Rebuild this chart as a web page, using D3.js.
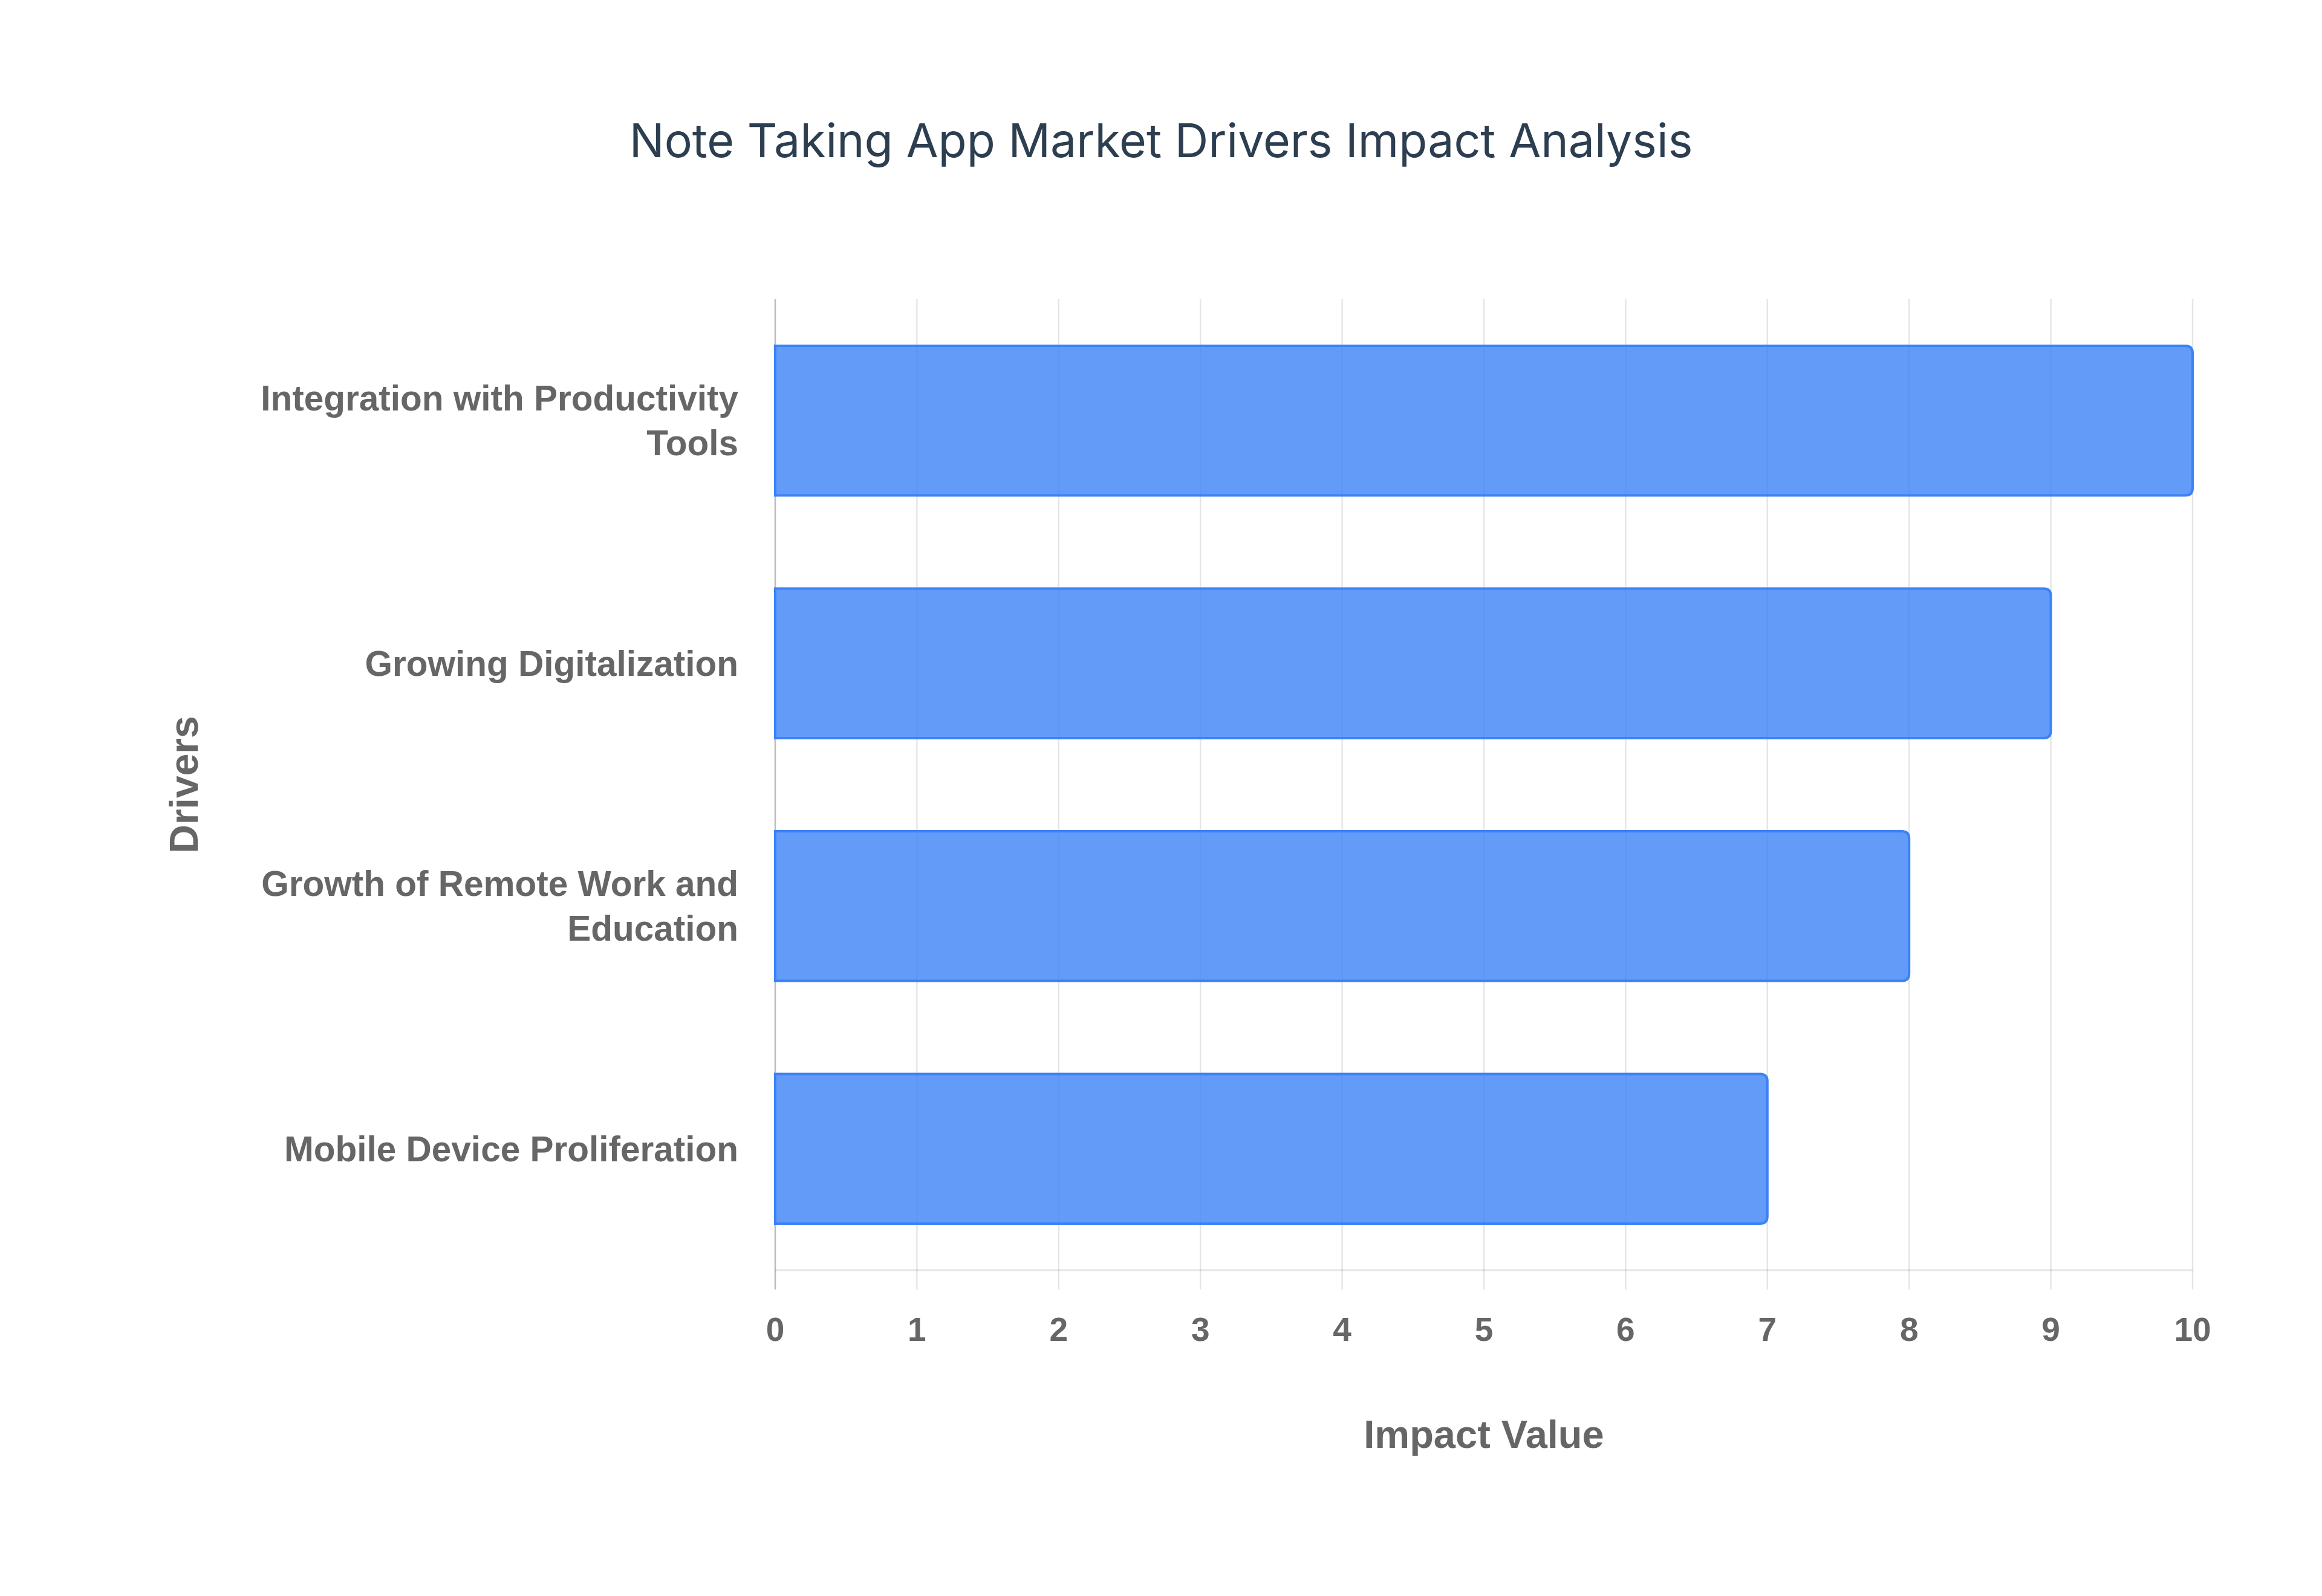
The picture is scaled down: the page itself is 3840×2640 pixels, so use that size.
<!DOCTYPE html>
<html>
<head>
<meta charset="utf-8">
<script src="https://cdn.jsdelivr.net/npm/d3@7"></script>
<style>
  body { margin: 0; background: #fff; }
</style>
</head>
<body>
<script>
// chart data
var drivers = [
  "Integration with Productivity Tools",
  "Growing Digitalization",
  "Growth of Remote Work and Education",
  "Mobile Device Proliferation"
];
var driverLines = [
  ["Integration with Productivity", "Tools"],
  ["Growing Digitalization"],
  ["Growth of Remote Work and", "Education"],
  ["Mobile Device Proliferation"]
];
var impactValues = [10, 9, 8, 7];
var xTicks = [0, 1, 2, 3, 4, 5, 6, 7, 8, 9, 10];

var w = 3840;
var h = 2640;
// plot area (pixels)
var plotL = 1282, plotR = 3626, plotT = 495, plotB = 2101;

var svg = d3.select("body")
  .append("svg")
  .attr("width", w)
  .attr("height", h);

svg.append("rect")
  .attr("width", w)
  .attr("height", h)
  .attr("fill", "#fff");

var x = d3.scaleLinear()
  .domain([0, 10])
  .range([plotL, plotR]);

var y = d3.scaleBand()
  .domain(drivers)
  .range([plotT, plotB])
  .paddingInner(0.383)
  .paddingOuter(0.1915);

// gridlines (extend below axis as tick marks)
svg.append("g")
  .selectAll("line")
  .data(xTicks)
  .enter()
  .append("line")
  .attr("x1", function(d) { return x(d); })
  .attr("x2", function(d) { return x(d); })
  .attr("y1", plotT)
  .attr("y2", plotB + 32)
  .attr("stroke", "rgba(0,0,0,0.1)")
  .attr("stroke-width", 2.5);

// bottom axis line
svg.append("line")
  .attr("x1", plotL)
  .attr("x2", plotR)
  .attr("y1", plotB)
  .attr("y2", plotB)
  .attr("stroke", "rgba(0,0,0,0.1)")
  .attr("stroke-width", 3);

// left axis line
svg.append("line")
  .attr("x1", plotL)
  .attr("x2", plotL)
  .attr("y1", plotT)
  .attr("y2", plotB + 32)
  .attr("stroke", "rgba(0,0,0,0.18)")
  .attr("stroke-width", 2.5);

// bars with rounded right end
var r = 12;
function barPath(d, i) {
  var x0 = x(0), x1 = x(impactValues[i]);
  var y0 = y(d), y1 = y(d) + y.bandwidth();
  return "M" + x0 + "," + y0 +
    "H" + (x1 - r) +
    "Q" + x1 + "," + y0 + " " + x1 + "," + (y0 + r) +
    "V" + (y1 - r) +
    "Q" + x1 + "," + y1 + " " + (x1 - r) + "," + y1 +
    "H" + x0 + "Z";
}

svg.append("g")
  .selectAll("path")
  .data(drivers)
  .enter()
  .append("path")
  .attr("d", barPath)
  .attr("fill", "rgba(59,130,246,0.8)")
  .attr("stroke", "rgb(59,130,246)")
  .attr("stroke-width", 4);

// x tick labels
svg.append("g")
  .selectAll("text")
  .data(xTicks)
  .enter()
  .append("text")
  .attr("x", function(d) { return x(d); })
  .attr("y", 2199)
  .attr("text-anchor", "middle")
  .attr("dominant-baseline", "central")
  .style("font-family", "'Liberation Sans', Arial, sans-serif")
  .style("font-weight", "bold")
  .style("font-size", "55px")
  .style("fill", "#666")
  .text(function(d) { return d; });

// y tick labels
var lineH = 74;
var labels = svg.append("g")
  .selectAll("text")
  .data(drivers)
  .enter()
  .append("text")
  .attr("text-anchor", "end")
  .style("font-family", "'Liberation Sans', Arial, sans-serif")
  .style("font-weight", "bold")
  .style("font-size", "58.5px")
  .style("fill", "#666");

labels.each(function(d, i) {
  var lines = driverLines[i];
  var cy = y(d) + y.bandwidth() / 2;
  var startY = cy - (lines.length - 1) * lineH / 2;
  d3.select(this).selectAll("tspan")
    .data(lines)
    .enter()
    .append("tspan")
    .attr("x", 1221)
    .attr("y", function(l, j) { return startY + j * lineH; })
    .attr("dominant-baseline", "central")
    .text(function(l) { return l; });
});

// axis titles
svg.append("text")
  .attr("x", (plotL + plotR) / 2)
  .attr("y", 2372)
  .attr("text-anchor", "middle")
  .attr("dominant-baseline", "central")
  .style("font-family", "'Liberation Sans', Arial, sans-serif")
  .style("font-weight", "bold")
  .style("font-size", "65px")
  .style("fill", "#666")
  .text("Impact Value");

svg.append("text")
  .attr("transform", "translate(304," + ((plotT + plotB) / 2) + ") rotate(-90)")
  .attr("text-anchor", "middle")
  .attr("dominant-baseline", "central")
  .style("font-family", "'Liberation Sans', Arial, sans-serif")
  .style("font-weight", "bold")
  .style("font-size", "66px")
  .style("fill", "#666")
  .text("Drivers");

// title
svg.append("text")
  .attr("x", 1920)
  .attr("y", 232)
  .attr("text-anchor", "middle")
  .attr("dominant-baseline", "central")
  .style("font-family", "Inter, 'Noto Sans', sans-serif")
  .style("font-size", "77px")
  .style("fill", "#2c3e50")
  .text("Note Taking App Market Drivers Impact Analysis");
</script>
</body>
</html>
